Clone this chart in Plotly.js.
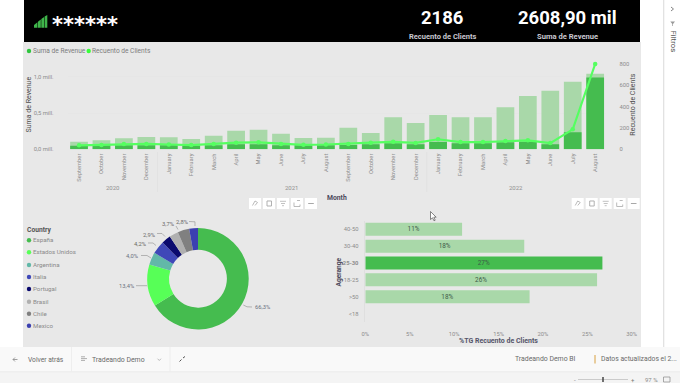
<!DOCTYPE html>
<html><head><meta charset="utf-8">
<script src="https://cdn.plot.ly/plotly-3.0.1.min.js"></script>
<style>html,body{margin:0;padding:0;background:#fff;overflow:hidden}#c{width:680px;height:383px}</style>
</head><body><div id="c"></div>
<script>
const months=['September','October','November','December','January','February','March','April','May','June','July','August','September','October','November','December','January','February','March','April','May','June','July','August'];
const revenueTotal=[0.105,0.124,0.151,0.17,0.165,0.142,0.188,0.257,0.27,0.215,0.156,0.16,0.298,0.225,0.44,0.362,0.472,0.44,0.44,0.578,0.734,0.807,0.931,1.04];
const revenueSelected=[0.05,0.055,0.055,0.055,0.055,0.05,0.055,0.069,0.069,0.055,0.055,0.055,0.06,0.069,0.083,0.069,0.1,0.083,0.083,0.096,0.105,0.069,0.234,0.99];
const clients=[37,40,50,50,45,40,50,62,65,50,42,45,50,62,70,60,94,68,68,78,84,58,187,800];
const leftTicks=[0,0.5,1];
const leftTickText=['0,0 mill.','0,5 mill.','1,0 mill.'];
const rightTicks=[0,200,400,600,800];
const countries=['España','Estados Unidos','Argentina','Italia','Portugal','Brasil','Chile','Mexico'];
const countryShare=[66.3,13.4,4.0,4.2,2.9,2.9,3.7,2.8];
const countryColors=['#45bc4f','#57ff57','#62b8a8','#3f48b8','#0a0a6e','#b0b0b0','#808080','#3b40b0'];
const ages=['40-50','30-40','25-30','18-25','>50','<18'];
const ageShare=[10.9,17.9,26.7,26.1,18.5,0];
const ageLabels=['11%','18%','27%','26%','18%',''];
const ageTicks=[0,5,10,15,20,25,30];

const W=680,H=383,FONT='Roboto, sans-serif';
const fx=x=>x/W, fy=y=>1-y/H;
const shapes=[],annotations=[];
function rect(x0,y0,x1,y1,fill,line){shapes.push({type:'rect',xref:'paper',yref:'paper',x0:fx(x0),x1:fx(x1),y0:fy(y1),y1:fy(y0),fillcolor:fill,line:{width:line?0.7:0,color:line||fill},layer:'below'});}
function seg(x0,y0,x1,y1,color,width){shapes.push({type:'line',xref:'paper',yref:'paper',x0:fx(x0),x1:fx(x1),y0:fy(y0),y1:fy(y1),line:{color,width:width||0.7}});}
function dot(x,y,r,fill){shapes.push({type:'circle',xref:'paper',yref:'paper',x0:fx(x-r),x1:fx(x+r),y0:fy(y+r),y1:fy(y-r),fillcolor:fill,line:{width:0}});}
function path(pts,fill,color,width){const d=pts.map((p,i)=>(i?'L':'M')+fx(p[0]).toFixed(5)+','+fy(p[1]).toFixed(5)).join(' ')+(fill?' Z':'');shapes.push({type:'path',xref:'paper',yref:'paper',path:d,fillcolor:fill||'rgba(0,0,0,0)',line:{width:width||0,color:color||'rgba(0,0,0,0)'}});}
function note(text,x,y,size,color,anchor,opts){annotations.push(Object.assign({text,xref:'paper',yref:'paper',x:fx(x),y:fy(y),xanchor:anchor||'left',yanchor:'middle',showarrow:false,font:{family:FONT,size,color},borderpad:0,borderwidth:0},opts||{}));}

// page panels
rect(24,0,640,42,'#000000');
rect(23,42,641,347,'#e8e8e8');
rect(663,0,664.3,347,'#e2e2e2');
rect(0,347,680,372,'#f9f9f9');
rect(0,372,680,383,'#f4f4f4');
rect(0,371.6,680,372.2,'#e6e6e6');
rect(71,347,72,372,'#eeeeee');
rect(169.5,347,170.5,372,'#eeeeee');

// header
path([[34,27.7],[34,25],[37.4,22.2],[37.4,27.7]],'#3fb54a');
path([[37.9,27.7],[37.9,21.8],[40.8,19.4],[40.8,27.7]],'#3fb54a');
path([[41.3,27.7],[41.3,19],[44.1,16.9],[44.1,27.7]],'#3fb54a');
path([[44.6,27.7],[44.6,16.4],[47.3,15],[47.3,27.7]],'#3fb54a');
note('<b>******</b>',52,25,21,'#fff','left',{font:{family:'"DejaVu Sans", sans-serif',size:21,color:'#fff'}});
note('<b>2186</b>',442,18,18.5,'#fff','center');
note('<b>Recuento de Clients</b>',442.5,36,7.5,'#c8c8d0','center');
note('<b>2608,90 mil</b>',567,18,18.5,'#fff','center');
note('<b>Suma de Revenue</b>',567,36.5,7.6,'#c8c8d0','center');

// top legend
dot(29,51,2.2,'#2fc53f');note('Suma de Revenue',32.5,51,6.6,'#7c7c7c');
dot(88.7,51,2.2,'#39ff39');note('Recuento de Clients',92,51,6.6,'#7c7c7c');

// years
note('2020',112.5,187.5,6,'#909090','center');
note('2021',292,187.5,6,'#909090','center');
note('2022',516,187.5,6,'#909090','center');
seg(157.5,152,157.5,192,'#e0e0e0');
seg(426.7,152,426.7,192,'#e0e0e0');
note('<b>Month</b>',337,198,6.8,'#4d4a5c','center');

// toolbars
function toolbar(x0){
  [0,14,28,42,56].forEach((d,i)=>{
    const x=x0+d; rect(x,198,x+12,209,'#ffffff');
    const cx=x+6,cy=203.5,c='#a8a8a8';
    if(i===0)path([[cx-2.5,cy+2],[cx,cy-2.5],[cx+2.5,cy-1],[cx,cy+2]],null,c,0.8);
    if(i===1)path([[cx-2,cy-2.5],[cx+2.5,cy-2.5],[cx+2.5,cy+2.5],[cx-2,cy+2.5]],'#ffffff',c,0.9);
    if(i===2){seg(cx-3,cy-2.2,cx+3,cy-2.2,c);seg(cx-2,cy,cx+2,cy,c);seg(cx-1,cy+2.2,cx+1,cy+2.2,c);}
    if(i===3){path([[cx-3,cy-1],[cx-3,cy+3],[cx+3,cy+3],[cx+3,cy+1]],null,c,0.8);path([[cx+3,cy-3],[cx,cy-3]],null,c,0.8);}
    if(i===4){seg(cx-2.8,cy,cx+2.8,cy,c,1);}
  });
}
toolbar(249);toolbar(571.7);

// pie legend
note('<b>Country</b>',26.5,230,6.7,'#555555');
const legendY=[240.3,252.3,265,277,289,301.7,313.7,325.7];
countries.forEach((c,i)=>{dot(29,legendY[i],2.2,countryColors[i]);note(c,33,legendY[i],6.2,'#8a8a8a');});

// pie labels and leaders
const pieLabelPos=[[262.7,307,'#6a7280'],[126,286,'#6a7280'],[132,256,'#6a7280'],[140,244,'#6a6a60'],[149,234.7,'#6a6a6a'],null,[168,224,'#6a6a6a'],[182,222.5,'#6a6a6a']];
const leaders=[[[243.3,305],[247,306.8],[252,307]],[[136,285.7],[147,285.7]],[[141,255.5],[147,255.5],[151,258]],[[148,243],[153,243],[156,245.5]],[[157,233.5],[162,233.5],[165,236.5]],null,[[176,226],[178,229.5]],[[189,221.5],[195,221.8],[195,226]]];
countryShare.forEach((v,i)=>{
  if(!pieLabelPos[i])return;
  note(v.toFixed(1).replace('.',',')+'%',pieLabelPos[i][0],pieLabelPos[i][1],5.8,pieLabelPos[i][2],'center');
  path(leaders[i],null,'#9a9a9a',0.7);
});

note('<b>Agerange</b>',338,272.5,6.6,'#4d4a5c','center',{textangle:-90});

// cursor
path([[430.5,211.5],[430.5,219.5],[432.5,217.8],[434,220.8],[435.2,220.2],[433.8,217.2],[436.2,217.2]],'#ffffff','#555555',0.7);

// bottom bar
path([[17.5,359.5],[13,359.5]],null,'#888888',0.8);path([[15,357.5],[13,359.5],[15,361.5]],null,'#888888',0.8);
note('Volver atrás',27.5,359.7,6.7,'#6a6a6a');
[0,1.8,3.6].forEach((d,i)=>seg(81,356.8+d,i===1?87:85,356.8+d,'#9a9a9a',0.8));
note('Tradeando Demo',92,359.7,6.9,'#6a6a6a');
path([[157.5,358.7],[159.3,360.5],[161,358.7]],null,'#aaaaaa',0.8);
seg(179.5,361.5,181.5,359.5,'#555',1);seg(183,358,185,356.5,'#555',1);
note('Tradeando Demo BI',515,359.3,6.9,'#6a6a6a');
seg(595,355,595,363.5,'#d8a040',1);
note('Datos actualizados el 2...',600.5,359.3,6.8,'#6a6a6a');
seg(578,379.5,628,379.5,'#c0c0c0',0.8);seg(603,377,603,382,'#444',1.5);
note('-',575,379,6,'#777','center');note('+',633,379,6,'#777','center');
note('97 %',651,379,6,'#888888','center');
rect(663.5,377,670,382,'#f4f4f4','#888888');

// filter pane
path([[671,7],[673.5,9],[671,11]],null,'#666',0.8);
path([[670.3,21.5],[675,21.5],[673,24],[673,26],[672.3,26],[672.3,24]],'#999');
note('Filtros',672.5,41,7.8,'#555555','center',{textangle:90});

const tickFont={family:FONT,size:5.8,color:'#8c8c8c'};
const traces=[
 {type:'bar',x:months.map((_,i)=>i),y:revenueTotal,xaxis:'x',yaxis:'y',width:0.79,marker:{color:'#a9d8a9'},name:'Suma de Revenue',hoverinfo:'skip'},
 {type:'bar',x:months.map((_,i)=>i),y:revenueSelected,xaxis:'x',yaxis:'y',width:0.79,marker:{color:'#45bc4f'},name:'Suma de Revenue (selección)',hoverinfo:'skip'},
 {type:'scatter',mode:'lines+markers',x:months.map((_,i)=>i),y:clients,xaxis:'x',yaxis:'y2',line:{color:'#55ff60',width:2.2},marker:{color:'#55ff60',size:4.5},name:'Recuento de Clients',hoverinfo:'skip'},
 {type:'bar',orientation:'h',y:ages,x:ageShare,xaxis:'x2',yaxis:'y3',width:0.77,
  marker:{color:ages.map(a=>a==='25-30'?'#45bc4f':'#a9d8a9')},
  text:ageLabels,textposition:'inside',insidetextanchor:'middle',textangle:0,constraintext:'none',
  textfont:{family:FONT,size:6.4,color:'#3d5a48'},name:'%TG Recuento de Clients',hoverinfo:'skip'},
 {type:'pie',values:countryShare,labels:countries,sort:false,direction:'clockwise',rotation:0,hole:0.57,
  marker:{colors:countryColors,line:{width:0}},textinfo:'none',hoverinfo:'skip',showlegend:false,
  domain:{x:[fx(147.3),fx(248.7)],y:[fy(329.5),fy(228)]}}
];
const layout={
 width:W,height:H,margin:{l:0,r:0,t:0,b:0},paper_bgcolor:'#ffffff',plot_bgcolor:'rgba(0,0,0,0)',
 barmode:'overlay',showlegend:false,shapes,annotations,font:{family:FONT},
 xaxis:{domain:[fx(67.8),fx(606.4)],range:[-0.5,23.5],tickmode:'array',tickvals:months.map((_,i)=>i),ticktext:months,tickangle:-90,
   tickfont:tickFont,ticklen:1,tickcolor:'rgba(0,0,0,0)',showgrid:false,zeroline:false,showline:false,anchor:'y',automargin:false},
 yaxis:{domain:[fy(149.3),fy(60)],range:[0,1.23],tickmode:'array',tickvals:leftTicks,ticktext:leftTickText,tickfont:tickFont,
   ticklen:12,tickcolor:'rgba(0,0,0,0)',gridcolor:'#e5e5e5',gridwidth:0.6,zeroline:false,anchor:'x',automargin:false,
   title:{text:'Suma de Revenue',font:{family:FONT,size:7,color:'#4d4d4d'},standoff:1}},
 yaxis2:{overlaying:'y',side:'right',anchor:'x',range:[0,837.5],tickmode:'array',tickvals:rightTicks,tickfont:tickFont,
   ticklen:11,tickcolor:'rgba(0,0,0,0)',showgrid:false,zeroline:false,automargin:false,
   title:{text:'Recuento de Clients',font:{family:FONT,size:7,color:'#4d4d4d'},standoff:1}},
 xaxis2:{domain:[fx(365.3),fx(631.7)],range:[0,30],tickmode:'array',tickvals:ageTicks,ticktext:ageTicks.map(t=>t+'%'),tickfont:tickFont,
   ticklen:6,tickcolor:'rgba(0,0,0,0)',showgrid:false,zeroline:false,anchor:'y3',automargin:false,
   title:{text:'<b>%TG Recuento de Clients</b>',font:{family:FONT,size:7,color:'#55556a'},standoff:2}},
 yaxis3:{domain:[fy(322),fy(220.85)],type:'category',categoryorder:'array',categoryarray:ages,range:[5.5,-0.5],anchor:'x2',
   tickmode:'array',tickvals:ages,ticktext:ages.map(a=>a==='25-30'?'<b>'+a+'</b>':a),tickfont:tickFont,
   ticklen:5,tickcolor:'rgba(0,0,0,0)',showgrid:false,zeroline:false,showline:true,linecolor:'#dcdcdc',linewidth:0.7,automargin:false}
};
Plotly.newPlot('c',traces,layout,{displayModeBar:false,staticPlot:true});
</script></body></html>
